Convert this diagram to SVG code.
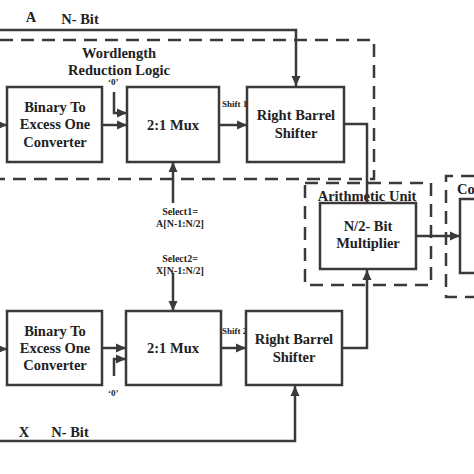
<svg xmlns="http://www.w3.org/2000/svg" width="474" height="474" viewBox="0 0 474 474">
<style>
.box{fill:#fff;stroke:#3a3a3a;stroke-width:2.5}
.ln{fill:none;stroke:#3a3a3a;stroke-width:2.5}
.dash{fill:none;stroke:#3a3a3a;stroke-width:2.5;stroke-dasharray:13 8}
.t{font-family:"Liberation Serif",serif;font-weight:bold;font-size:14.5px;fill:#222;text-anchor:middle}
.s{font-family:"Liberation Serif",serif;font-weight:bold;font-size:10px;fill:#222;text-anchor:middle}
.xs{font-family:"Liberation Serif",serif;font-weight:bold;font-size:9px;fill:#222}
</style>
<defs>
<marker id="ah" markerUnits="userSpaceOnUse" markerWidth="10" markerHeight="10" viewBox="0 0 10 10" refX="10" refY="5" orient="auto">
<path d="M0,0.5 L10,5 L0,9.5 Z" fill="#3a3a3a"/>
</marker>
</defs>
<rect width="474" height="474" fill="#fff"/>

<g id="regions">
<path class="dash" d="M0,40 H374 V179 H0"/>
<rect class="dash" x="305" y="183" width="126" height="102"/>
<path class="dash" d="M474,176 H446 V297 H474"/>
<text class="t" x="119" y="58">Wordlength</text>
<text class="t" x="119" y="75">Reduction Logic</text>
<text class="t" x="367" y="201">Arithmetic Unit</text>
<text class="t" x="457" y="194" style="text-anchor:start">Co</text>
</g>

<g id="connectors">
<polyline class="ln" points="0,30 296,30 296,86" marker-end="url(#ah)"/>
<line class="ln" x1="0" y1="125" x2="7" y2="125" marker-end="url(#ah)"/>
<line class="ln" x1="102" y1="125" x2="127" y2="125" marker-end="url(#ah)"/>
<polyline class="ln" points="114,92 114,113 127,113" marker-end="url(#ah)"/>
<line class="ln" x1="219" y1="125" x2="247" y2="125" marker-end="url(#ah)"/>
<line class="ln" x1="173" y1="203" x2="173" y2="162" marker-end="url(#ah)"/>
<polyline class="ln" points="344,124 367,124 367,203"/>
<line class="ln" x1="173" y1="273" x2="173" y2="311" marker-end="url(#ah)"/>
<line class="ln" x1="0" y1="349" x2="7" y2="349" marker-end="url(#ah)"/>
<line class="ln" x1="102" y1="348" x2="126" y2="348" marker-end="url(#ah)"/>
<polyline class="ln" points="114,376 114,359 126,359" marker-end="url(#ah)"/>
<line class="ln" x1="221" y1="348" x2="246" y2="348" marker-end="url(#ah)"/>
<polyline class="ln" points="342,348 367,348 367,270" marker-end="url(#ah)"/>
<polyline class="ln" points="0,441 295,441 295,386" marker-end="url(#ah)"/>
<line class="ln" x1="416" y1="236" x2="460" y2="236" marker-end="url(#ah)"/>
</g>

<g id="labels">
<text class="t" x="31" y="22">A</text>
<text class="t" x="80" y="24">N- Bit</text>
<text class="t" x="24" y="437">X</text>
<text class="t" x="70" y="437">N- Bit</text>
<text class="xs" x="108" y="85">‘0’</text>
<text class="xs" x="108" y="396">‘0’</text>
<text class="xs" x="222" y="107">Shift 1</text>
<text class="xs" x="222" y="334">Shift 2</text>
<text class="s" x="180" y="215">Select1=</text>
<text class="s" x="180" y="227">A[N-1:N/2]</text>
<text class="s" x="180" y="262">Select2=</text>
<text class="s" x="180" y="274">X[N-1:N/2]</text>
</g>

<g id="conv1">
<rect class="box" x="7" y="87" width="95" height="75"/>
<text class="t" x="55" y="112">Binary To</text>
<text class="t" x="55" y="129">Excess One</text>
<text class="t" x="55" y="147">Converter</text>
</g>
<g id="mux1">
<rect class="box" x="127" y="87" width="92" height="75"/>
<text class="t" x="173" y="130">2:1 Mux</text>
</g>
<g id="shifter1">
<rect class="box" x="247" y="87" width="97" height="75"/>
<text class="t" x="296" y="120">Right Barrel</text>
<text class="t" x="296" y="138">Shifter</text>
</g>
<g id="multiplier">
<rect class="box" x="320" y="203" width="96" height="66"/>
<text class="t" x="368" y="231">N/2- Bit</text>
<text class="t" x="368" y="248">Multiplier</text>
</g>
<g id="next">
<rect class="box" x="460" y="199" width="20" height="74"/>
</g>
<g id="conv2">
<rect class="box" x="7" y="311" width="95" height="74"/>
<text class="t" x="55" y="336">Binary To</text>
<text class="t" x="55" y="353">Excess One</text>
<text class="t" x="55" y="370">Converter</text>
</g>
<g id="mux2">
<rect class="box" x="126" y="311" width="95" height="74"/>
<text class="t" x="173" y="353">2:1 Mux</text>
</g>
<g id="shifter2">
<rect class="box" x="246" y="311" width="96" height="74"/>
<text class="t" x="294" y="344">Right Barrel</text>
<text class="t" x="294" y="362">Shifter</text>
</g>
</svg>
